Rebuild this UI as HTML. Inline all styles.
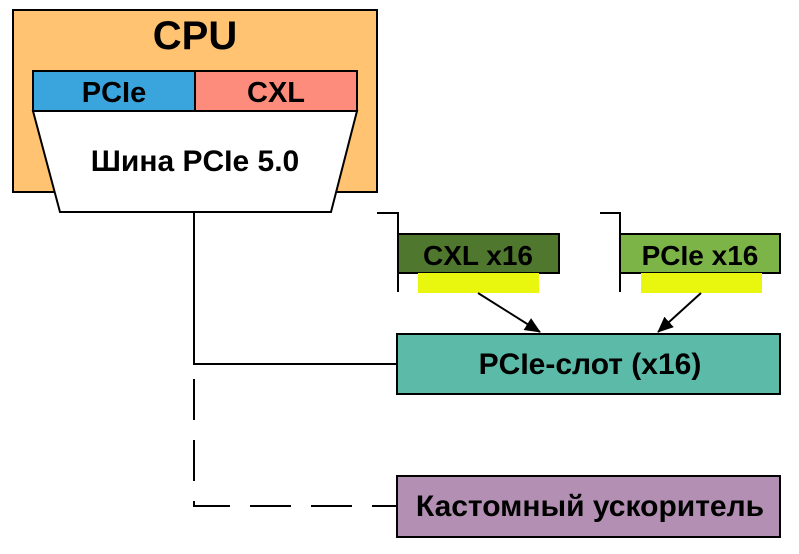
<!DOCTYPE html>
<html><head><meta charset="utf-8"><style>body{margin:0;background:#fff}svg{display:block}text{font-family:"Liberation Sans",sans-serif;font-weight:bold;fill:#000}</style></head>
<body>
<svg width="799" height="554" viewBox="0 0 799 554">
<defs>
<marker id="b" markerWidth="16" markerHeight="14" refX="15" refY="7" orient="auto" markerUnits="userSpaceOnUse"><path d="M0,0 L16,7 L0,14 z" fill="#000"/></marker></defs>
<rect x="13" y="10" width="364" height="182" fill="#ffc372" stroke="#000" stroke-width="2"/>
<text x="195" y="49" font-size="40" text-anchor="middle">CPU</text>
<rect x="33" y="71" width="162" height="40" fill="#3aa4dd" stroke="#000" stroke-width="2"/>
<rect x="195" y="71" width="162" height="40" fill="#fe8c7c" stroke="#000" stroke-width="2"/>
<text x="114" y="102" font-size="29" text-anchor="middle">PCIe</text>
<text x="276" y="102" font-size="29" text-anchor="middle">CXL</text>
<path d="M33,111 L357,111 L331,212 L60,212 Z" fill="#fff" stroke="#000" stroke-width="2"/>
<text x="195" y="171" font-size="30" text-anchor="middle">Шина PCIe 5.0</text>
<path d="M194,212 L194,364 L397,364" fill="none" stroke="#000" stroke-width="2"/>
<path d="M194,379 L194,506 L397,506" fill="none" stroke="#000" stroke-width="2" stroke-dasharray="41 20"/>
<path d="M377,213 L398,213 L398,292" fill="none" stroke="#000" stroke-width="2"/>
<path d="M600,213 L620,213 L620,292" fill="none" stroke="#000" stroke-width="2"/>
<rect x="398" y="234" width="161" height="39" fill="#4f772d" stroke="#000" stroke-width="2"/>
<text x="478" y="265" font-size="28" text-anchor="middle">CXL x16</text>
<rect x="418" y="273" width="121" height="20" fill="#e9f60d"/>
<rect x="620" y="234" width="160" height="39" fill="#7db447" stroke="#000" stroke-width="2"/>
<text x="700" y="265" font-size="28" text-anchor="middle">PCIe x16</text>
<rect x="641" y="273" width="121" height="20" fill="#e9f60d"/>
<line x1="478" y1="293" x2="540" y2="332" stroke="#000" stroke-width="2" marker-end="url(#b)"/>
<line x1="701" y1="293" x2="658" y2="332" stroke="#000" stroke-width="2" marker-end="url(#b)"/>
<rect x="397" y="334" width="383" height="60" fill="#5bbba8" stroke="#000" stroke-width="2"/>
<text x="590" y="374" font-size="30" text-anchor="middle">PCIe-слот (x16)</text>
<rect x="397" y="476" width="383" height="61" fill="#b28fb3" stroke="#000" stroke-width="2"/>
<text x="590" y="516" font-size="30" text-anchor="middle">Кастомный ускоритель</text>
</svg>
</body></html>
